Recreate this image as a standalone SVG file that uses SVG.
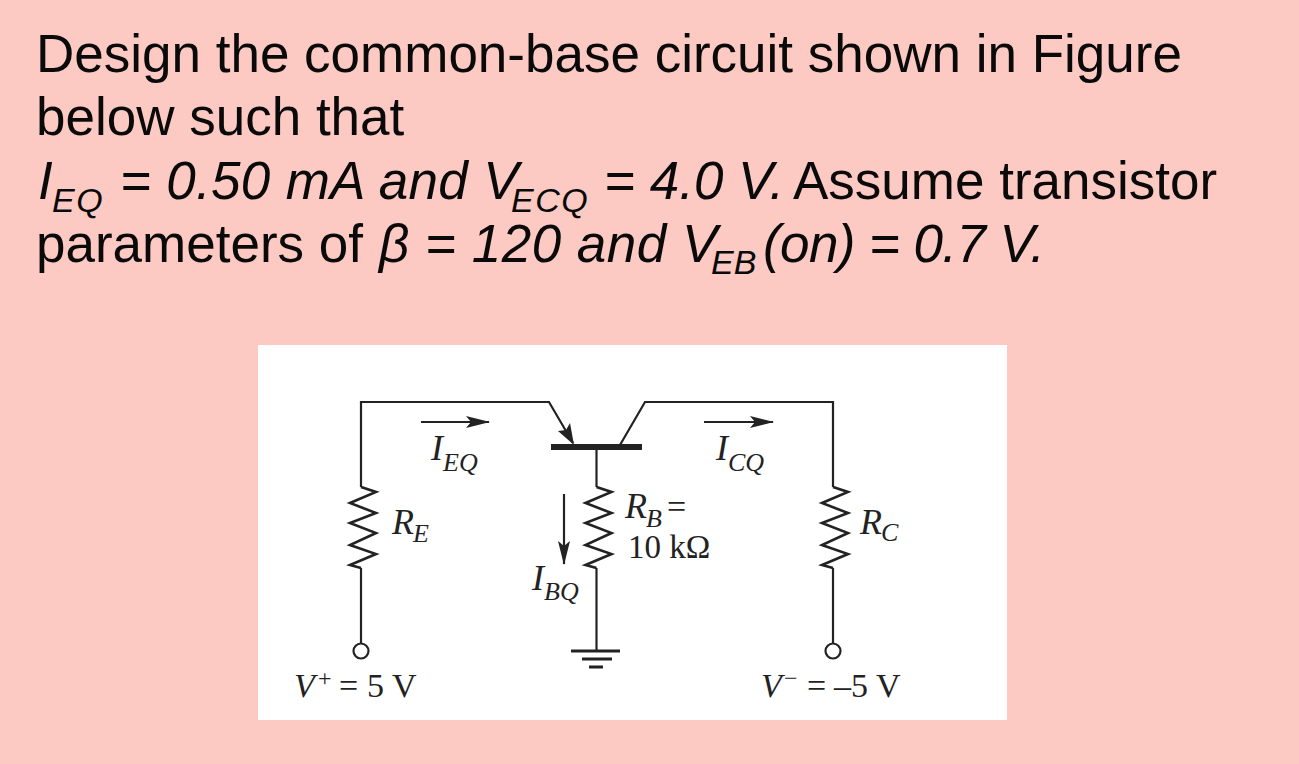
<svg xmlns="http://www.w3.org/2000/svg" width="1299" height="764" viewBox="0 0 1299 764">
<style>
.t{font-family:"Liberation Sans",Arial,sans-serif;font-size:53px;fill:#0a0a0a}
.i{font-style:italic}
.s{font-size:34px;font-style:italic}
.c{font-family:"Liberation Serif","Times New Roman",serif;fill:#222}
.ci{font-style:italic;font-size:36px}
.cs{font-style:italic;font-size:26px}
.cn{font-size:34px}
.w{fill:none;stroke:#222;stroke-width:2.200}
.r{fill:none;stroke:#222;stroke-width:2.600}
.g{fill:none;stroke:#222;stroke-width:3}
.h{fill:#222}
</style>
<defs>
<marker id="ah" viewBox="0 0 24 12" refX="23" refY="6" markerWidth="24" markerHeight="12" markerUnits="userSpaceOnUse" orient="auto"><path class="h" d="M0 0L24 6L0 12L5 6Z"/></marker>
<path id="res" class="r" d="M0 0L15 5L-11 16L15 26L-11 36L15 46L-11 58L15 67L-11 78L0 81"/>
</defs>
<rect width="1299" height="764" fill="#fcc9c3"/>
<g id="problem">
<text class="t" x="36" y="72">Design the common-base circuit shown in Figure</text>
<text class="t" x="36" y="135">below such that</text>
<text class="t"><tspan class="i" x="38" y="199">I</tspan><tspan class="s" x="52" y="212" letter-spacing="1.500">EQ</tspan><tspan class="i" x="120" y="199" letter-spacing="0.300">= 0.50 mA and V</tspan><tspan class="s" x="511" y="212" letter-spacing="1.500">ECQ</tspan><tspan class="i" x="604" y="199">= 4.0 V.</tspan><tspan x="793" y="199">Assume transistor</tspan></text>
<text class="t"><tspan x="36" y="262">parameters of</tspan><tspan class="i" x="379" y="262" letter-spacing="0.500">β = 120 and V</tspan><tspan class="s" x="711" y="274">EB</tspan><tspan class="i" x="763" y="262" letter-spacing="-0.600">(on) = 0.7 V.</tspan></text>
</g>
<rect id="panel" x="258" y="345" width="749" height="375" fill="#fff"/>
<g id="connectors">
<path class="w" d="M361 487V402H549L573 443"/>
<path class="w" d="M620 445L645 402H833V487"/>
<path class="w" d="M361 568V644"/>
<path class="w" d="M833 568V644"/>
<path class="w" d="M596.500 449V487"/>
<path class="w" d="M596.500 568V651"/>
<path class="w" marker-end="url(#ah)" d="M421 422H489"/>
<path class="w" marker-end="url(#ah)" d="M704 422H773"/>
<path class="w" marker-end="url(#ah)" d="M564 494V564"/>
<path class="h" d="M574 445L558 431L566 430L570 423Z"/>
</g>
<g id="transistor"><rect x="551" y="444" width="91" height="6" fill="#222"/></g>
<g id="re"><use href="#res" x="361" y="487"/><text class="c"><tspan class="ci" x="392" y="534">R</tspan><tspan class="cs" x="413" y="542">E</tspan></text></g>
<g id="rb"><use href="#res" x="596.500" y="487"/><text class="c"><tspan class="ci" x="625" y="518">R</tspan><tspan class="cs" x="646" y="527">B</tspan><tspan class="cn" x="667" y="518">=</tspan></text><text class="c cn" font-size="33" style="font-size:33px" x="628" y="558">10 kΩ</text></g>
<g id="rc"><use href="#res" x="833" y="487"/><text class="c"><tspan class="ci" x="860" y="534">R</tspan><tspan class="cs" x="881" y="541">C</tspan></text></g>
<g id="ieq"><text class="c"><tspan class="ci" x="431" y="460">I</tspan><tspan class="cs" x="443" y="471">EQ</tspan></text></g>
<g id="icq"><text class="c"><tspan class="ci" x="716" y="460">I</tspan><tspan class="cs" x="728" y="471">CQ</tspan></text></g>
<g id="ibq"><text class="c"><tspan class="ci" x="532" y="590">I</tspan><tspan class="cs" x="544" y="600">BQ</tspan></text></g>
<g id="ground"><path class="g" d="M571 651H620M582 659H612M589 667H603"/></g>
<g id="vplus"><circle class="w" cx="361" cy="651" r="7.500" fill="#fff"/><text class="c"><tspan class="cn i" x="294" y="697">V</tspan><tspan font-size="24" x="318" y="686">+</tspan><tspan class="cn" x="339" y="697">=</tspan><tspan class="cn" x="367" y="697">5 V</tspan></text></g>
<g id="vminus"><circle class="w" cx="833" cy="651" r="7.500" fill="#fff"/><text class="c"><tspan class="cn i" x="761" y="697">V</tspan><tspan font-size="24" x="784" y="686">−</tspan><tspan class="cn" x="807" y="697">=</tspan><tspan class="cn" x="834" y="697">–5 V</tspan></text></g>
</svg>
